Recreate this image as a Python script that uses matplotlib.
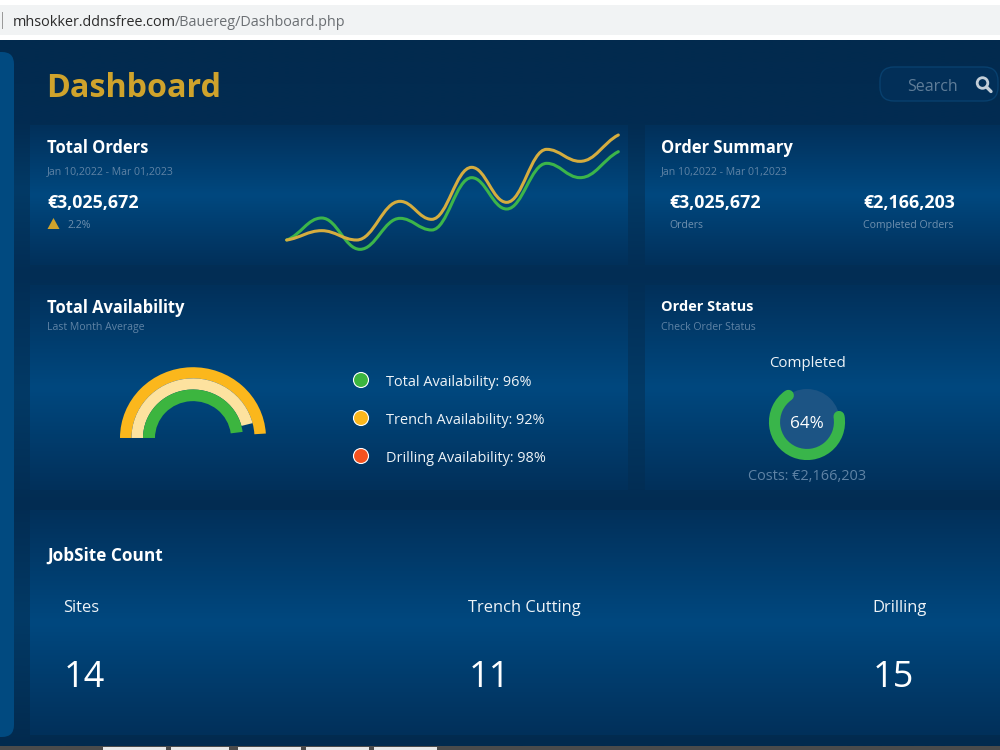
import numpy as np
import matplotlib
matplotlib.use("Agg")
import matplotlib.pyplot as plt
from matplotlib.patches import Wedge, Circle, Arc, FancyBboxPatch, Rectangle, Polygon, PathPatch
from matplotlib.path import Path
from matplotlib.colors import LinearSegmentedColormap

plt.rcParams['font.family'] = ['Open Sans', 'DejaVu Sans']

# ---- data ----
green_x = [20, 125, 240, 360, 455, 575, 680, 800, 900, 1015]
green_y = [45, 111, 17, 110, 75, 232, 138, 275, 232, 310]
gold_x = [20, 125, 230, 360, 455, 575, 680, 800, 900, 1015]
gold_y = [45, 73, 45, 161, 107, 263, 158, 317, 281, 360]

avail_labels = ['Total Availability', 'Trench Availability', 'Drilling Availability']
avail_values = [96, 92, 98]
avail_colors = ['#3cb53f', '#fbb71c', '#f4511e']

site_labels = ['Sites', 'Trench Cutting', 'Drilling']
site_values = [14, 11, 15]
completed_pct = 64
completed_arc_pct = 68

W, H = 1000, 750
fig = plt.figure(figsize=(10, 7.5), dpi=100)
bg = fig.add_axes([0, 0, 1, 1])
bg.set_xlim(0, W); bg.set_ylim(H, 0); bg.axis('off')


def inset(x0, y0, x1, y1):
    a = fig.add_axes([x0 / W, 1 - y1 / H, (x1 - x0) / W, (y1 - y0) / H])
    a.patch.set_alpha(0)
    a.axis('off')
    return a


def grad(x0, y0, x1, y1, stops, z=1):
    cmap = LinearSegmentedColormap.from_list('g', stops)
    return bg.imshow(np.linspace(0, 1, 256)[:, None], cmap=cmap, extent=(x0, x1, y1, y0),
                     aspect='auto', zorder=z, interpolation='bilinear')


def T(x, y, s, size, color='white', weight='normal', ha='left', target=None, **kw):
    (target or bg).text(x, y, s, fontsize=size * 0.72, color=color, fontweight=weight, ha=ha,
                        va='baseline', zorder=6, **kw)


def smooth(ax, xs, ys, color):
    # A line through the read peaks and troughs, flat at each turning point
    verts = [(xs[0], ys[0])]
    codes = [Path.MOVETO]
    for i in range(len(xs) - 1):
        dx = xs[i + 1] - xs[i]
        start_slope = 0.0 if i else 0.55 * (ys[1] - ys[0]) / dx
        end_slope = 0.0 if i + 1 < len(xs) - 1 else 0.75 * (ys[i + 1] - ys[i]) / dx
        verts += [(xs[i] + dx * 0.4, ys[i] + start_slope * dx * 0.4),
                  (xs[i + 1] - dx * 0.4, ys[i + 1] - end_slope * dx * 0.4),
                  (xs[i + 1], ys[i + 1])]
        codes += [Path.CURVE4] * 3
    ax.add_patch(PathPatch(Path(verts, codes), fc='none', ec=color, lw=2.2, capstyle='round'))


# page background
grad(0, 40, W, 746, [(0, '#022a4e'), (0.12, '#022c52'), (0.21, '#033a66'), (0.33, '#022d54'),
                     (0.5, '#033a66'), (0.66, '#022c52'), (0.82, '#033a66'), (1, '#022a4e')], z=0)
# panels
DARK, MID = '#02305a', '#00487f'
for (x0, y0, x1, y1) in [(30, 125, 628, 265), (645, 125, 1000, 265), (30, 285, 628, 490),
                         (645, 285, 1000, 490), (30, 510, 1000, 735)]:
    grad(x0, y0, x1, y1, [(0, DARK), (0.5, MID), (1, DARK)], z=1)
# sidebar
bg.add_patch(FancyBboxPatch((-20, 52), 34, 685, boxstyle='round,pad=0,rounding_size=12',
                            fc='#014a80', ec='none', zorder=2))
# browser bar
bg.add_patch(Rectangle((0, 0), W, 40, fc='white', ec='none', zorder=3))
bg.add_patch(Rectangle((0, 5), W, 30, fc='#f1f3f4', ec='none', zorder=3))
bg.add_patch(Rectangle((2, 12), 1, 17, fc='#9a9a9a', ec='none', zorder=4))
bg.text(13, 25.5, 'mhsokker.ddnsfree.com', fontsize=14.4 * 0.72, color='#2b2b2b', zorder=6, va='baseline')
bg.text(174.5, 25.5, '/Bauereg/Dashboard.php', fontsize=14.4 * 0.72, color='#6b6f73', zorder=6, va='baseline')
# bottom taskbar
bg.add_patch(Rectangle((0, 746), W, 4, fc='#4b4b4b', ec='none', zorder=3))
for x0, x1 in [(103, 166), (171, 229), (238, 301), (306, 369), (374, 437)]:
    bg.add_patch(Rectangle((x0, 747), x1 - x0, 3, fc='#e8e8e8', ec='none', zorder=4))

# header
T(46, 97, 'Dashboard', 32.3, '#cfa32c', 'bold')
bg.add_patch(FancyBboxPatch((880, 67), 118, 34, boxstyle='round,pad=0,rounding_size=14',
                            fc='#022f58', ec='#08406e', lw=1, zorder=2))
T(907, 91, 'Search', 16, '#5f7d98')
bg.add_patch(Circle((982.5, 83), 5.3, fc='none', ec='#c3ced8', lw=2, zorder=5))
bg.plot([986.5, 991], [87, 91.5], color='#c3ced8', lw=2.4, zorder=5, solid_capstyle='round')

# Total Orders
T(47, 153, 'Total Orders', 16.5, 'white', 'bold')
T(47, 174, 'Jan 10,2022 - Mar 01,2023', 10.5, '#5f83a5')
T(47, 208, '€3,025,672', 17.8, 'white', 'bold')
bg.add_patch(Polygon([(47.5, 229), (53.5, 218), (59.5, 229)], closed=True, fc='#cfa32c', ec='none', zorder=5))
T(67, 228, '2.2%', 10.5, '#6f90ae')

ax = inset(280, 125, 630, 255)
ax.set_xlim(0, 1050); ax.set_ylim(0, 390)
smooth(ax, green_x, green_y, '#3cb54a')
smooth(ax, gold_x, gold_y, '#d5ad3f')

# Order Summary
T(661, 153, 'Order Summary', 16.5, 'white', 'bold')
T(661, 174, 'Jan 10,2022 - Mar 01,2023', 10.5, '#5f83a5')
T(669, 208, '€3,025,672', 17.8, 'white', 'bold')
T(669, 228, 'Orders', 10.5, '#6f90ae')
T(863, 208, '€2,166,203', 17.8, 'white', 'bold')
T(863, 228, 'Completed Orders', 10.5, '#6f90ae')

# Total Availability
T(47, 313, 'Total Availability', 16.5, 'white', 'bold')
T(47, 330, 'Last Month Average', 10.5, '#5f83a5')

g = inset(110, 355, 280, 450)
g.set_xlim(110, 280); g.set_ylim(-12.4, 85.6)
cx = 193
rings = [(avail_values[2], 73, 11.5, '#fbb71c'), (avail_values[1], 61.5, 11.5, '#fde29f'),
         (avail_values[0], 50, 12, '#3cb53f')]
for val, r, w, c in rings:
    g.add_patch(Wedge((cx, 0), r, 180 - val / 100 * 180, 180, width=w, fc=c, ec='none'))

for i, (lab, val, col) in enumerate(zip(avail_labels, avail_values, avail_colors)):
    y = 380 + i * 38
    bg.add_patch(Circle((361, y), 7.5, fc=col, ec='white', lw=0.8, zorder=5))
    T(386, y + 5.5, f'{lab}: {val}%', 14.5, '#eef3f7')

# Order Status
T(661, 311, 'Order Status', 14.5, 'white', 'bold')
T(661, 330, 'Check Order Status', 10.5, '#5f83a5')
T(807, 367, 'Completed', 15, '#eef3f7', ha='center')
d = inset(760, 375, 854, 469)
d.set_xlim(-47, 47); d.set_ylim(-47, 47)
d.add_patch(Circle((0, 0), 33, fc='#1c5484', ec='none'))
d.add_patch(Arc((0, 0), 65, 65, theta1=125, theta2=125 + completed_arc_pct / 100 * 360,
                ec='#39b54a', lw=8, capstyle='round'))
T(0, -5.5, f'{completed_pct}%', 17, 'white', ha='center', target=d)
T(807, 480, 'Costs: €2,166,203', 14.5, '#5f83a5', ha='center')

# JobSite Count
T(47, 561, 'JobSite Count', 17.2, 'white', 'bold')
for x, lab, val in zip([63, 468, 872], site_labels, site_values):
    T(x, 612, lab, 16.5, '#eef3f7')
    T(x + 1, 687, str(val), 36, 'white')

bg.set_xlim(0, W); bg.set_ylim(H, 0)
fig.savefig('out.png', dpi=100)
